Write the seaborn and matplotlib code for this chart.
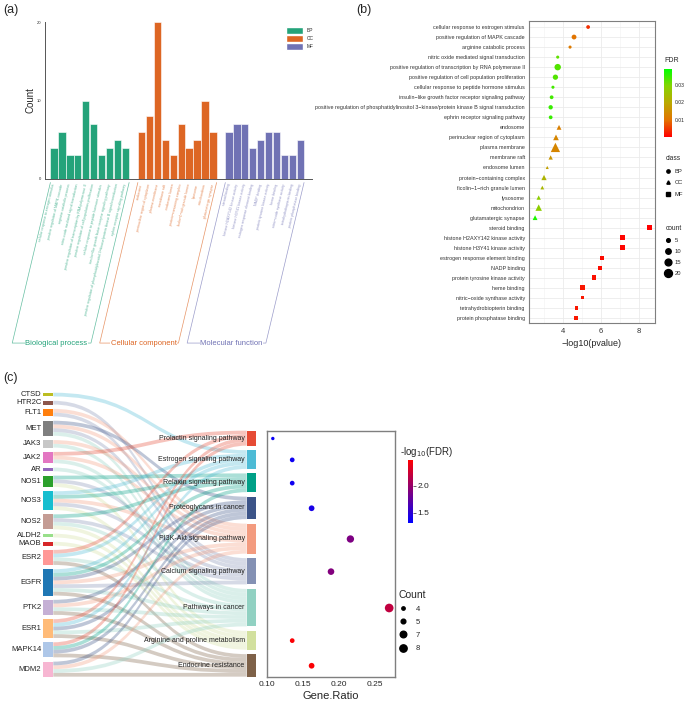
import numpy as np
import pandas as pd
import matplotlib.pyplot as plt
import seaborn as sns
from matplotlib.path import Path
from matplotlib.patches import PathPatch, Patch, Rectangle
from matplotlib.lines import Line2D
from matplotlib.colors import LinearSegmentedColormap, Normalize
from matplotlib.cm import ScalarMappable
from matplotlib import font_manager

sns.set_style('white')
plt.rcParams['font.family'] = ['Liberation Sans', 'DejaVu Sans']
names = {f.name for f in font_manager.fontManager.ttflist}
narrow = ['Liberation Sans Narrow', 'Liberation Sans'] if 'Liberation Sans Narrow' in names else ['Liberation Sans']

# ---- GO terms (panel a and b) ----
bp_terms = ['cellular response to estrogen stimulus', 'positive regulation of MAPK cascade',
            'arginine catabolic process', 'nitric oxide mediated signal transduction',
            'positive regulation of transcription by RNA polymerase II',
            'positive regulation of cell population proliferation',
            'cellular response to peptide hormone stimulus',
            'insulin\u2212like growth factor receptor signaling pathway',
            'positive regulation of phosphatidylinositol 3\u2212kinase/protein kinase B signal transduction',
            'ephrin receptor signaling pathway']
cc_terms = ['endosome', 'perinuclear region of cytoplasm', 'plasma membrane', 'membrane raft',
            'endosome lumen', 'protein\u2212containing complex', 'ficolin\u22121\u2212rich granule lumen',
            'lysosome', 'mitochondrion', 'glutamatergic synapse']
mf_terms = ['steroid binding', 'histone H2AXY142 kinase activity', 'histone H3Y41 kinase activity',
            'estrogen response element binding', 'NADP binding', 'protein tyrosine kinase activity',
            'heme binding', 'nitric\u2212oxide synthase activity', 'tetrahydrobiopterin binding',
            'protein phosphatase binding']
bp_count = [4, 6, 3, 3, 10, 7, 3, 4, 5, 4]
cc_count = [6, 8, 20, 5, 3, 7, 4, 5, 10, 6]
mf_count = [6, 7, 7, 4, 5, 6, 6, 3, 3, 5]
bp_logp = [5.32, 4.58, 4.37, 3.72, 3.72, 3.60, 3.47, 3.40, 3.35, 3.35]
cc_logp = [3.79, 3.63, 3.60, 3.35, 3.17, 3.00, 2.91, 2.72, 2.72, 2.53]
mf_logp = [8.56, 7.14, 7.14, 6.04, 5.93, 5.63, 5.02, 5.02, 4.72, 4.70]
bp_fdr = [0.004, 0.010, 0.011, 0.032, 0.033, 0.033, 0.034, 0.034, 0.035, 0.035]
cc_fdr = [0.012, 0.013, 0.013, 0.016, 0.018, 0.022, 0.023, 0.028, 0.028, 0.037]
mf_fdr = [0.0001, 0.0005, 0.0005, 0.001, 0.001, 0.0015, 0.002, 0.002, 0.002, 0.002]
class_colors = {'BP': '#24a37a', 'CC': '#dd6624', 'MF': '#7072b4'}
group_names = {'BP': 'Biological process', 'CC': 'Cellular component', 'MF': 'Molecular function'}

# ---- KEGG (panel c) ----
genes = ['CTSD', 'HTR2C', 'FLT1', 'MET', 'JAK3', 'JAK2', 'AR', 'NOS1', 'NOS3', 'NOS2',
         'ALDH2', 'MAOB', 'ESR2', 'EGFR', 'PTK2', 'ESR1', 'MAPK14', 'MDM2']
gene_colors = ['#bcbd22', '#8c564b', '#ff7f0e', '#7f7f7f', '#c7c7c7', '#e377c2', '#9467bd', '#2ca02c',
               '#17becf', '#c49c94', '#98df8a', '#d62728', '#ff9896', '#1f77b4', '#c5b0d5', '#ffbb78',
               '#aec7e8', '#f7b6d2']
pathways = ['Prolactin signaling pathway', 'Estrogen signaling pathway', 'Relaxin signaling pathway',
            'Proteoglycans in cancer', 'PI3K-Akt signaling pathway', 'Calcium signaling pathway',
            'Pathways in cancer', 'Arginine and proline metabolism', 'Endocrine resistance']
path_colors = ['#e64b35', '#4dbbd5', '#00a087', '#3c5488', '#f39b7f', '#8491b4', '#91d1c2',
               '#d2e09e', '#7e6148']
# pathway indices linked to each gene
gene_links = [[1], [5], [4, 5], [3, 4, 5, 6], [4, 6], [0, 4, 6], [6], [2, 5, 7], [1, 2, 4, 5, 7],
              [2, 5, 6, 7], [7], [7], [0, 1, 6, 8], [1, 2, 3, 4, 5, 6, 8], [3, 4, 6, 8],
              [0, 1, 3, 6, 8], [0, 2, 3, 8], [3, 4, 6, 8]]
path_count = [4, 5, 5, 6, 8, 7, 10, 5, 6]
gene_ratio = [0.108, 0.135, 0.135, 0.162, 0.216, 0.189, 0.270, 0.135, 0.162]
path_logfdr = [1.35, 1.37, 1.38, 1.42, 1.88, 1.90, 2.18, 2.45, 2.45]

W, H = 685, 701
fig = plt.figure(figsize=(W / 100, H / 100), dpi=100)


def px_axes(l, t, r, b):
    return fig.add_axes([l / W, 1 - b / H, (r - l) / W, (b - t) / H])


def px(x, y):
    return x / W, 1 - y / H


# ================= (a) bar chart =================
ax_a = px_axes(45, 22, 312, 179)
df_a = pd.DataFrame({'term': bp_terms + cc_terms + mf_terms,
                     'count': bp_count + cc_count + mf_count,
                     'class': ['BP'] * 10 + ['CC'] * 10 + ['MF'] * 10})
order = bp_terms + ['_gap1'] + cc_terms + ['_gap2'] + mf_terms
sns.barplot(data=df_a, x='term', y='count', hue='class', order=order, palette=class_colors,
            width=0.92, saturation=1, edgecolor='white', linewidth=0.4, dodge=False, legend=False, ax=ax_a)
ax_a.set_xlim(-1.13, 32.45)
ax_a.set_ylim(0, 20)
ax_a.set_yticks([0, 10, 20])
ax_a.tick_params(axis='y', labelsize=3, length=2, width=0.5, pad=1)
ax_a.set_ylabel('')
ax_a.set_xlabel('')
for s in ['top', 'right']:
    ax_a.spines[s].set_visible(False)
for s in ['left', 'bottom']:
    ax_a.spines[s].set_color('#555555')
    ax_a.spines[s].set_linewidth(0.7)
fig.text(*px(31, 100), 'Count', rotation=90, fontsize=7, ha='center', va='center')

pos = [order.index(t) for t in df_a['term']]
ax_a.set_xticks(pos)
ax_a.set_xticklabels(df_a['term'], rotation=76.7, ha='right', va='center', rotation_mode='anchor',
                     fontsize=2.55)
ax_a.tick_params(axis='x', length=1.5, width=0.4, pad=2)
for lab, cls in zip(ax_a.get_xticklabels(), df_a['class']):
    lab.set_color(class_colors[cls])
    lab.set_alpha(0.75)

# slanted group brackets
ytop, ybot, dx = -0.45, -20.9, 4.8
for cls in ['BP', 'CC', 'MF']:
    p = [order.index(t) for t in df_a.loc[df_a['class'] == cls, 'term']]
    s0, e0 = min(p) - 0.45, max(p) + 0.45
    xs = [s0, s0 - dx, e0 - dx, e0]
    ys = [ytop, ybot, ybot, ytop]
    ax_a.plot(xs, ys, color=class_colors[cls], lw=0.5, alpha=0.7, clip_on=False)
    ax_a.text((s0 + e0) / 2 - dx + 0.6, ybot, group_names[cls], color=class_colors[cls], fontsize=5.5,
              ha='center', va='center', clip_on=False,
              bbox=dict(facecolor='white', edgecolor='none', pad=0.3))

ax_a.legend(handles=[Patch(facecolor=class_colors[c], label=c) for c in ['BP', 'CC', 'MF']],
            loc='upper left', bbox_to_anchor=px(282, 23), bbox_transform=fig.transFigure,
            fontsize=3.5, frameon=False, handlelength=3.4, handleheight=1.6, labelspacing=0.35,
            handletextpad=0.8)

# ================= (b) dot plot =================
ax_b = px_axes(529, 21, 655, 323)
df_b = pd.DataFrame({'term': bp_terms + cc_terms + mf_terms,
                     'logp': bp_logp + cc_logp + mf_logp,
                     'fdr': bp_fdr + cc_fdr + mf_fdr,
                     'count': bp_count + cc_count + mf_count,
                     'class': ['BP'] * 10 + ['CC'] * 10 + ['MF'] * 10})
df_b['row'] = np.arange(len(df_b))
cmap_fdr = LinearSegmentedColormap.from_list('fdr', ['#ff0000', '#e27300', '#bba800', '#86d300', '#00ff00'])
fdr_norm = (0, 0.039)
size_b = lambda c: 5 + (c - 3) / 17 * 40
sns.scatterplot(data=df_b, x='logp', y='row', hue='fdr', palette=cmap_fdr, hue_norm=fdr_norm,
                size='count', sizes=(5, 45), size_norm=(3, 20), style='class',
                markers={'BP': 'o', 'CC': '^', 'MF': 's'}, linewidth=0, legend=False,
                ax=ax_b, zorder=3)
ax_b.set_xlim(2.21, 8.84)
ax_b.set_ylim(29.5, -0.6)
ax_b.set_xticks([4, 6, 8])
ax_b.set_xticks([3, 5, 7], minor=True)
ax_b.set_yticks(df_b['row'])
ax_b.set_yticklabels(df_b['term'], family=narrow, fontsize=3.85)
ax_b.tick_params(axis='y', length=2, width=0.4, pad=1, color='#444444', colors='#333333')
ax_b.tick_params(axis='x', length=2, width=0.4, pad=1.5, labelsize=5.5, color='#444444', labelcolor='#333333')
ax_b.grid(True, which='major', color='#ebebeb', lw=0.6)
ax_b.grid(True, which='minor', axis='x', color='#f2f2f2', lw=0.4)
ax_b.set_axisbelow(True)
for s in ax_b.spines.values():
    s.set_color('#7f7f7f')
    s.set_linewidth(0.8)
ax_b.set_ylabel('')
ax_b.set_xlabel('\u2212log10(pvalue)', family=narrow, fontsize=6.5, labelpad=3)

cax_b = px_axes(664, 69, 672, 137)
cb = fig.colorbar(ScalarMappable(norm=Normalize(*fdr_norm), cmap=cmap_fdr), cax=cax_b,
                  ticks=[0.01, 0.02, 0.03])
cb.outline.set_visible(False)
cb.ax.tick_params(labelsize=3.6, length=1.2, width=0.4, pad=0.8, color='white')
for t in cb.ax.get_yticklabels():
    t.set_family(narrow)
fig.text(*px(664, 60), 'FDR', fontsize=5, family=narrow, va='center')

fig.legend(handles=[Line2D([], [], marker=m, ls='', color='black', markersize=2.4, label=c)
                    for c, m in zip(['BP', 'CC', 'MF'], ['o', '^', 's'])],
           title='class', loc='upper left', bbox_to_anchor=px(660, 150), fontsize=4.2,
           title_fontsize=4.8, frameon=False, labelspacing=1.1, handlelength=1.0,
           handletextpad=0.6, alignment='left')
fig.legend(handles=[Line2D([], [], marker='o', ls='', color='black', markersize=np.sqrt(size_b(c)) * 0.85,
                           label=str(c)) for c in [5, 10, 15, 20]],
           title='count', loc='upper left', bbox_to_anchor=px(660, 220), fontsize=4.2,
           title_fontsize=4.8, frameon=False, labelspacing=1.0, handlelength=1.0,
           handletextpad=0.6, alignment='left')

# ================= (c) sankey + dot plot =================
U = 3.75            # px per link
g_gap, p_gap = 1.16, 1.2
top_px = 392.7
n_links = sum(len(l) for l in gene_links)
g_total = n_links + (len(genes) - 1) * g_gap
p_total = n_links + (len(pathways) - 1) * p_gap

ax_s = px_axes(0, 385, 262, 690)
ax_s.set_xlim(0, 262)
ax_s.set_ylim((690 - top_px) / U, (385 - top_px) / U)
ax_s.axis('off')

g_top = np.cumsum([0] + [len(l) + g_gap for l in gene_links[:-1]])
p_sizes = [sum(p in l for l in gene_links) for p in range(len(pathways))]
p_top = g_total - p_total + np.cumsum([0] + [s + p_gap for s in p_sizes[:-1]])

gx0, gx1, px0, px1 = 43.3, 53.3, 246.7, 256.0
p_fill = [0] * len(pathways)
for gi, targets in enumerate(gene_links):
    for k, p in enumerate(sorted(targets)):
        ys = g_top[gi] + k
        yt = p_top[p] + p_fill[p]
        p_fill[p] += 1
        xm = (gx1 + px0) / 2
        verts = [(gx1, ys), (xm, ys), (xm, yt), (px0, yt), (px0, yt + 1), (xm, yt + 1), (xm, ys + 1),
                 (gx1, ys + 1), (gx1, ys)]
        codes = [Path.MOVETO, Path.CURVE4, Path.CURVE4, Path.CURVE4, Path.LINETO, Path.CURVE4,
                 Path.CURVE4, Path.CURVE4, Path.CLOSEPOLY]
        ax_s.add_patch(PathPatch(Path(verts, codes), facecolor=path_colors[p], edgecolor='none',
                                 alpha=0.33))
for gi, g in enumerate(genes):
    h = len(gene_links[gi])
    ax_s.add_patch(Rectangle((gx0, g_top[gi]), gx1 - gx0, h, facecolor=gene_colors[gi], edgecolor='none'))
    ax_s.text(gx0 - 2, g_top[gi] + h / 2, g, ha='right', va='center', fontsize=5.5, color='#222222')
p_center = []
for pi, p in enumerate(pathways):
    h = p_sizes[pi]
    ax_s.add_patch(Rectangle((px0, p_top[pi]), px1 - px0, h, facecolor=path_colors[pi], edgecolor='none'))
    ax_s.text(px0 - 2, p_top[pi] + h / 2, p, ha='right', va='center', fontsize=5, color='#222222')
    p_center.append(p_top[pi] + h / 2)

ax_c = px_axes(267, 431, 395, 677)
df_c = pd.DataFrame({'pathway': pathways, 'ratio': gene_ratio, 'y': p_center,
                     'logfdr': path_logfdr, 'count': path_count})
cmap_c = LinearSegmentedColormap.from_list('br', ['#0000ff', '#ff0000'])
c_norm = (1.31, 2.47)
size_c = lambda c: 6 + (c - 4) / 6 * 33
sns.scatterplot(data=df_c, x='ratio', y='y', hue='logfdr', palette=cmap_c, hue_norm=c_norm,
                size='count', sizes=(6, 39), size_norm=(4, 10), linewidth=0, legend=False, ax=ax_c)
ax_c.set_ylim(g_total, g_total - p_total)
ax_c.set_xlim(0.0999, 0.2781)
ax_c.set_xticks([0.10, 0.15, 0.20, 0.25])
ax_c.set_xticklabels(['0.10', '0.15', '0.20', '0.25'])
ax_c.set_yticks([])
ax_c.set_ylabel('')
ax_c.set_xlabel('')
fig.text(*px(331, 699), 'Gene.Ratio', fontsize=8, ha='center', va='baseline')
ax_c.tick_params(axis='x', labelsize=6, length=2, width=0.5, pad=1, color='#444444')
for s in ax_c.spines.values():
    s.set_color('#7f7f7f')
    s.set_linewidth(1.0)

cax_c = px_axes(408, 460, 413, 523)
cb2 = fig.colorbar(ScalarMappable(norm=Normalize(*c_norm), cmap=cmap_c), cax=cax_c, ticks=[1.5, 2.0])
cb2.outline.set_visible(False)
cb2.ax.tick_params(labelsize=6, length=2, width=0.5, pad=1, color='#333333')
fig.text(*px(400, 452), '-log$_{10}$(FDR)', fontsize=7, va='center')

fig.legend(handles=[Line2D([], [], marker='o', ls='', color='black', markersize=np.sqrt(size_c(c)),
                           label=str(c)) for c in [4, 5, 7, 8]],
           title='Count', loc='upper left', bbox_to_anchor=px(392, 583), fontsize=5.5,
           title_fontsize=7.5, frameon=False, labelspacing=0.75, handlelength=1.2,
           handletextpad=1.0, alignment='left')

# panel tags
fig.text(*px(3, 10), '(a)', fontsize=9, va='center')
fig.text(*px(356, 10), '(b)', fontsize=9, va='center')
fig.text(*px(3, 378), '(c)', fontsize=9, va='center')

fig.savefig('out.png', dpi=100)
